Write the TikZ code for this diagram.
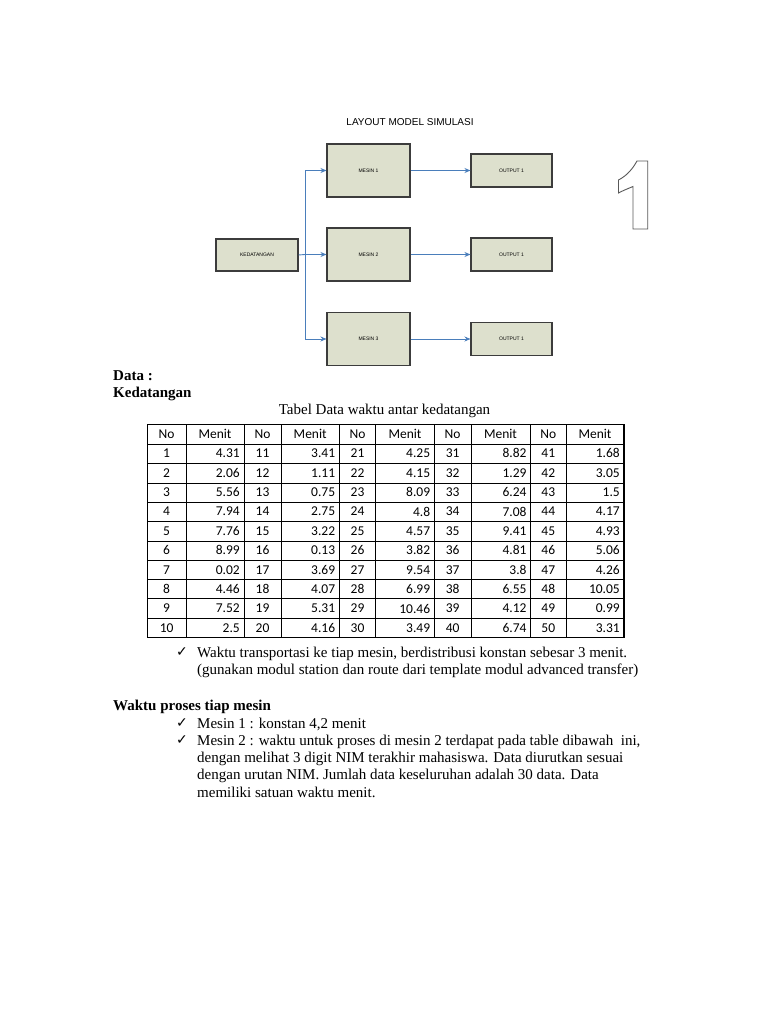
\documentclass[tikz,border=0pt]{standalone}
\usepackage{fontspec}
\setmainfont{Liberation Serif}
\newfontfamily\calibri{Carlito}
\newfontfamily\arialf{Liberation Sans}
\newfontfamily\dejavu{DejaVu Sans}
\usetikzlibrary{arrows.meta}
\definecolor{boxfill}{RGB}{221,224,205}
\definecolor{boxdraw}{RGB}{60,60,60}
\definecolor{arrowblue}{RGB}{74,126,187}
\tikzset{
  procbox/.style={draw=boxdraw,fill=boxfill,line width=1.1pt,inner sep=0pt,font=\arialf\fontsize{5}{6}\selectfont},
  flow/.style={draw=arrowblue,line width=0.9pt,-{Stealth[length=6pt,width=5pt]}},
  body/.style={anchor=base west,inner sep=0pt,font=\fontsize{15}{17.3}\selectfont},
  bodyb/.style={anchor=base west,inner sep=0pt,font=\fontsize{15}{17.3}\selectfont\bfseries},
  tick/.style={anchor=base west,inner sep=0pt,font=\dejavu\fontsize{14}{15}\selectfont},
  cellno/.style={inner sep=0pt,font=\calibri\fontsize{13.5}{14}\selectfont},
  cellval/.style={inner sep=0pt,anchor=east,font=\calibri\fontsize{13.5}{14}\selectfont},
  grid/.style={line width=0.8pt,draw=black}
}
\newcommand\datacol[5]{% #1 col tag, #2 No center x, #3 value right x, #4 offset, #5 values
  \foreach \v [count=\r] in {#5}{
    \pgfmathtruncatemacro\n{\r+#4}
    \node[cellno] (n#1-\r) at (#2,{424.3+19.4*(\r+0.5)}) {\n};
    \node[cellval] (v#1-\r) at (#3,{424.3+19.4*(\r+0.5)}) {\v};
  }
}
\begin{document}
\begin{tikzpicture}[x=1pt,y=-1pt]
\useasboundingbox[fill=white] (0,0) rectangle (768,1024);

% ---------- layout diagram ----------
\node[font=\arialf\fontsize{10}{12}\selectfont,inner sep=0pt] (title) at (410,122) {LAYOUT MODEL SIMULASI};

\node[procbox,minimum width=82pt,minimum height=32pt] (ked) at (257,255) {KEDATANGAN};
\node[procbox,minimum width=83pt,minimum height=53pt] (m1) at (368.5,170.5) {MESIN 1};
\node[procbox,minimum width=83pt,minimum height=53pt] (m2) at (368.5,254.5) {MESIN 2};
\node[procbox,minimum width=83pt,minimum height=53pt] (m3) at (368.5,339) {MESIN 3};
\node[procbox,minimum width=81pt,minimum height=33pt] (o1) at (511.5,170.5) {OUTPUT 1};
\node[procbox,minimum width=81pt,minimum height=33pt] (o2) at (511.5,254.5) {OUTPUT 1};
\node[procbox,minimum width=81pt,minimum height=33pt] (o3) at (511.5,339) {OUTPUT 1};

\coordinate (br) at (305,254.5);
\draw[draw=arrowblue,line width=0.9pt] (ked.east) -- (br);
\draw[flow] (br) |- (m1.west);
\draw[flow] (br) -- (m2.west);
\draw[flow] (br) |- (m3.west);
\draw[flow] (m1.east) -- (o1.west);
\draw[flow] (m2.east) -- (o2.west);
\draw[flow] (m3.east) -- (o3.west);

% outlined numeral 1
\draw[draw=black!65,line width=0.9pt,fill=white,line join=miter]
  (647.7,161) -- (647.7,229) -- (633,229) -- (633,186.5)
  .. controls (627,189) and (622,191) .. (618.5,193)
  -- (618.5,180)
  .. controls (628,175) and (633,168) .. (637,161) -- cycle;

% ---------- text ----------
\node[bodyb] (data) at (113,380) {Data :};
\node[bodyb] (kedt) at (113,397.3) {Kedatangan};
\node[font=\fontsize{15}{17.3}\selectfont,inner sep=0pt,anchor=base] (cap) at (384.5,414.6) {Tabel Data waktu antar kedatangan};

% ---------- table ----------
\draw[grid,line width=1.1pt] (147.3,424.3) rectangle (624,637.7);
\foreach \x in {186,244,281,339.3,375.7,434.3,471,530.7,566}
  \draw[grid] (\x,424.3) -- (\x,637.7);
\foreach \y in {444,463.3,483,502.3,521.7,541,560.3,579.7,598.7,618.3}
  \draw[grid] (147.3,\y) -- (624,\y);

\foreach \nx/\mx/\k in {166.6/215/1,262.5/310.2/2,357.5/405/3,452.6/500.5/4,548.3/595/5}{
  \node[cellno] (hn\k) at (\nx,434.1) {No};
  \node[cellno] (hm\k) at (\mx,434.1) {Menit};
}
\datacol{1}{166.6}{240}{0}{4.31,2.06,5.56,7.94,7.76,8.99,0.02,4.46,7.52,2.5}
\datacol{2}{262.5}{335.3}{10}{3.41,1.11,0.75,2.75,3.22,0.13,3.69,4.07,5.31,4.16}
\datacol{3}{357.5}{430.3}{20}{4.25,4.15,8.09,4.8,4.57,3.82,9.54,6.99,10.46,3.49}
\datacol{4}{452.6}{526.7}{30}{8.82,1.29,6.24,7.08,9.41,4.81,3.8,6.55,4.12,6.74}
\datacol{5}{548.3}{620}{40}{1.68,3.05,1.5,4.17,4.93,5.06,4.26,10.05,0.99,3.31}

% ---------- bullets ----------
\node[tick] (t1) at (176,656.5) {✓};
\node[body] (b1a) at (197,657) {Waktu transportasi ke tiap mesin, berdistribusi konstan sebesar 3 menit.};
\node[body] (b1b) at (197,674.3) {(gunakan modul station dan route dari template modul advanced transfer)};

\node[bodyb] (wp) at (113,710.5) {Waktu proses tiap mesin};
\node[tick] (t2) at (176,727.5) {✓};
\node[body] (b2) at (197,728) {Mesin 1 : konstan 4,2 menit};
\node[tick] (t3) at (176,744.8) {✓};
\node[body] (b3a) at (197,745.3) {Mesin 2 : waktu untuk proses di mesin 2 terdapat pada table dibawah\ \ ini,};
\node[body] (b3b) at (197,762.6) {dengan melihat 3 digit NIM terakhir mahasiswa. Data diurutkan sesuai};
\node[body] (b3c) at (197,779.9) {dengan urutan NIM. Jumlah data keseluruhan adalah 30 data. Data};
\node[body] (b3d) at (197,797.2) {memiliki satuan waktu menit.};
\end{tikzpicture}
\end{document}
